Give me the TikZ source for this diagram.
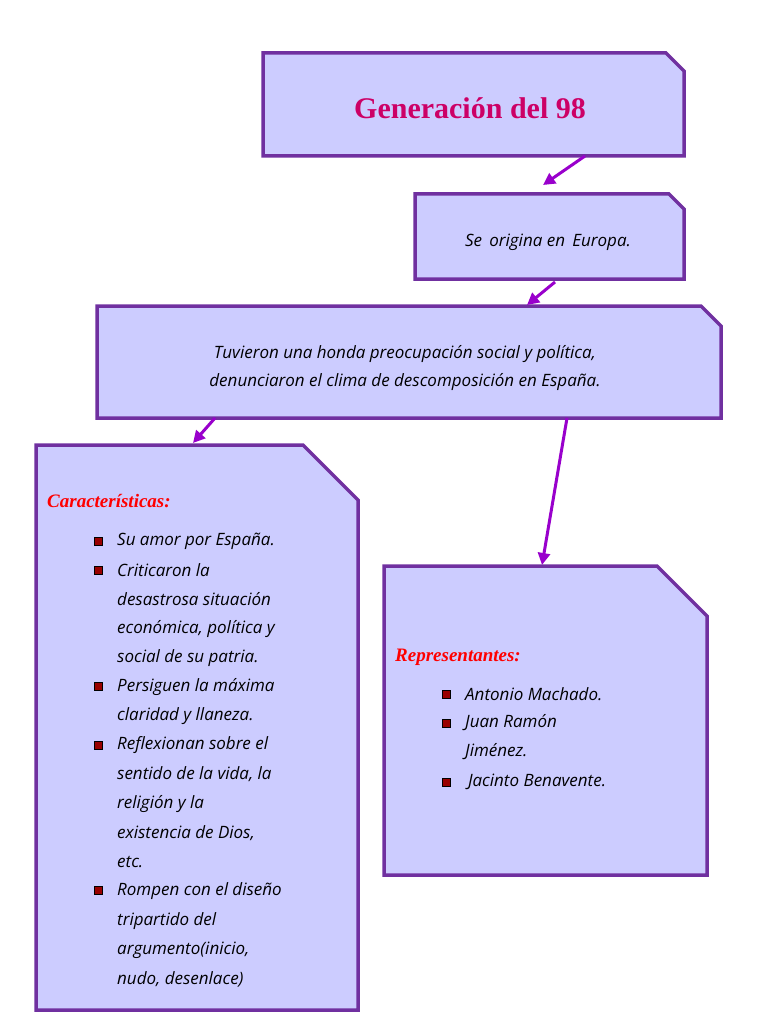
\documentclass[tikz,border=0pt]{standalone}
\usepackage{fontspec}
\setmainfont{Liberation Serif}
\newfontfamily\comic{Open Sans}
\usetikzlibrary{arrows.meta}
\definecolor{boxfill}{HTML}{CCCCFF}
\definecolor{boxline}{HTML}{7030A0}
\definecolor{arr}{HTML}{9900CC}
\definecolor{titlec}{HTML}{CC0066}
\definecolor{bul}{HTML}{990000}
\tikzset{
 box/.style={fill=boxfill,draw=boxline,line width=3.5pt,line join=miter},
 arrow/.style={draw=arr,line width=3pt,-{Triangle[length=12pt,width=12pt]}},
 txt/.style={font=\comic\itshape\fontsize{17}{20}\selectfont,anchor=west,inner sep=0pt},
 head/.style={font=\bfseries\itshape\fontsize{19}{22}\selectfont,text=red,anchor=west,inner sep=0pt},
 bullet/.style={fill=bul,draw=black,line width=0.6pt,minimum size=8pt,inner sep=0pt}
}
\newcommand{\snipbox}[5]{\draw[box] (#1,#2) -- (#3-#5,#2) -- (#3,#2+#5) -- (#3,#4) -- (#1,#4) -- cycle;}
\begin{document}
\begin{tikzpicture}[x=1pt,y=-1pt]
\useasboundingbox[fill=white] (0,0) rectangle (768,1024);
\snipbox{263}{53}{684}{156}{18}
\snipbox{415}{194}{684}{279}{15}
\snipbox{97}{306}{721}{418}{20}
\snipbox{36}{445}{358}{1010}{55}
\snipbox{384}{566}{707}{875}{50}
\node[font=\bfseries\fontsize{30}{34}\selectfont,text=titlec] (t) at (470,108) {Generación del 98};
\node[font=\comic\itshape\fontsize{17}{20}\selectfont] (e) at (548,242) {Se \,origina en \,Europa.};
\node[font=\comic\itshape\fontsize{17}{20}\selectfont,align=center] (c) at (405,368) {Tuvieron una honda preocupación social y política,\\[8pt]denunciaron el clima de descomposición en España.};
\coordinate (a1s) at (585,156); \coordinate (a1e) at (543,185);
\coordinate (a2s) at (555,282); \coordinate (a2e) at (527,305);
\coordinate (a3s) at (215,418); \coordinate (a3e) at (193,443);
\coordinate (a4s) at (567,418); \coordinate (a4e) at (542,565);
\draw[arrow] (a1s) -- (a1e);
\draw[arrow] (a2s) -- (a2e);
\draw[arrow] (a3s) -- (a3e);
\draw[arrow] (a4s) -- (a4e);
\node[head] (h1) at (47,501) {Características:};
\foreach \y in {541,570,686,745,890} \node[bullet] at (98,\y) {};
\foreach \t [count=\i from 0] in {Su amor por España.,Criticaron la,desastrosa situación,económica{,} política y,social de su patria.,Persiguen la máxima,claridad y llaneza.,Reflexionan sobre el,sentido de la vida{,} la,religión y la,existencia de Dios{,},etc.,Rompen con el diseño,tripartido del,argumento(inicio{,},nudo{,} desenlace)}
  \node[txt] at (117,541+29.2*\i) {\t};
\node[head] (h2) at (395,657) {Representantes:};
\foreach \y in {694,723,782} \node[bullet] at (446,\y) {};
\node[txt] at (465,694) {Antonio Machado.};
\node[txt] at (465,723) {Juan Ramón};
\node[txt] at (465,752) {Jiménez.};
\node[txt] at (465,782) {\,Jacinto Benavente.};
\end{tikzpicture}
\end{document}
